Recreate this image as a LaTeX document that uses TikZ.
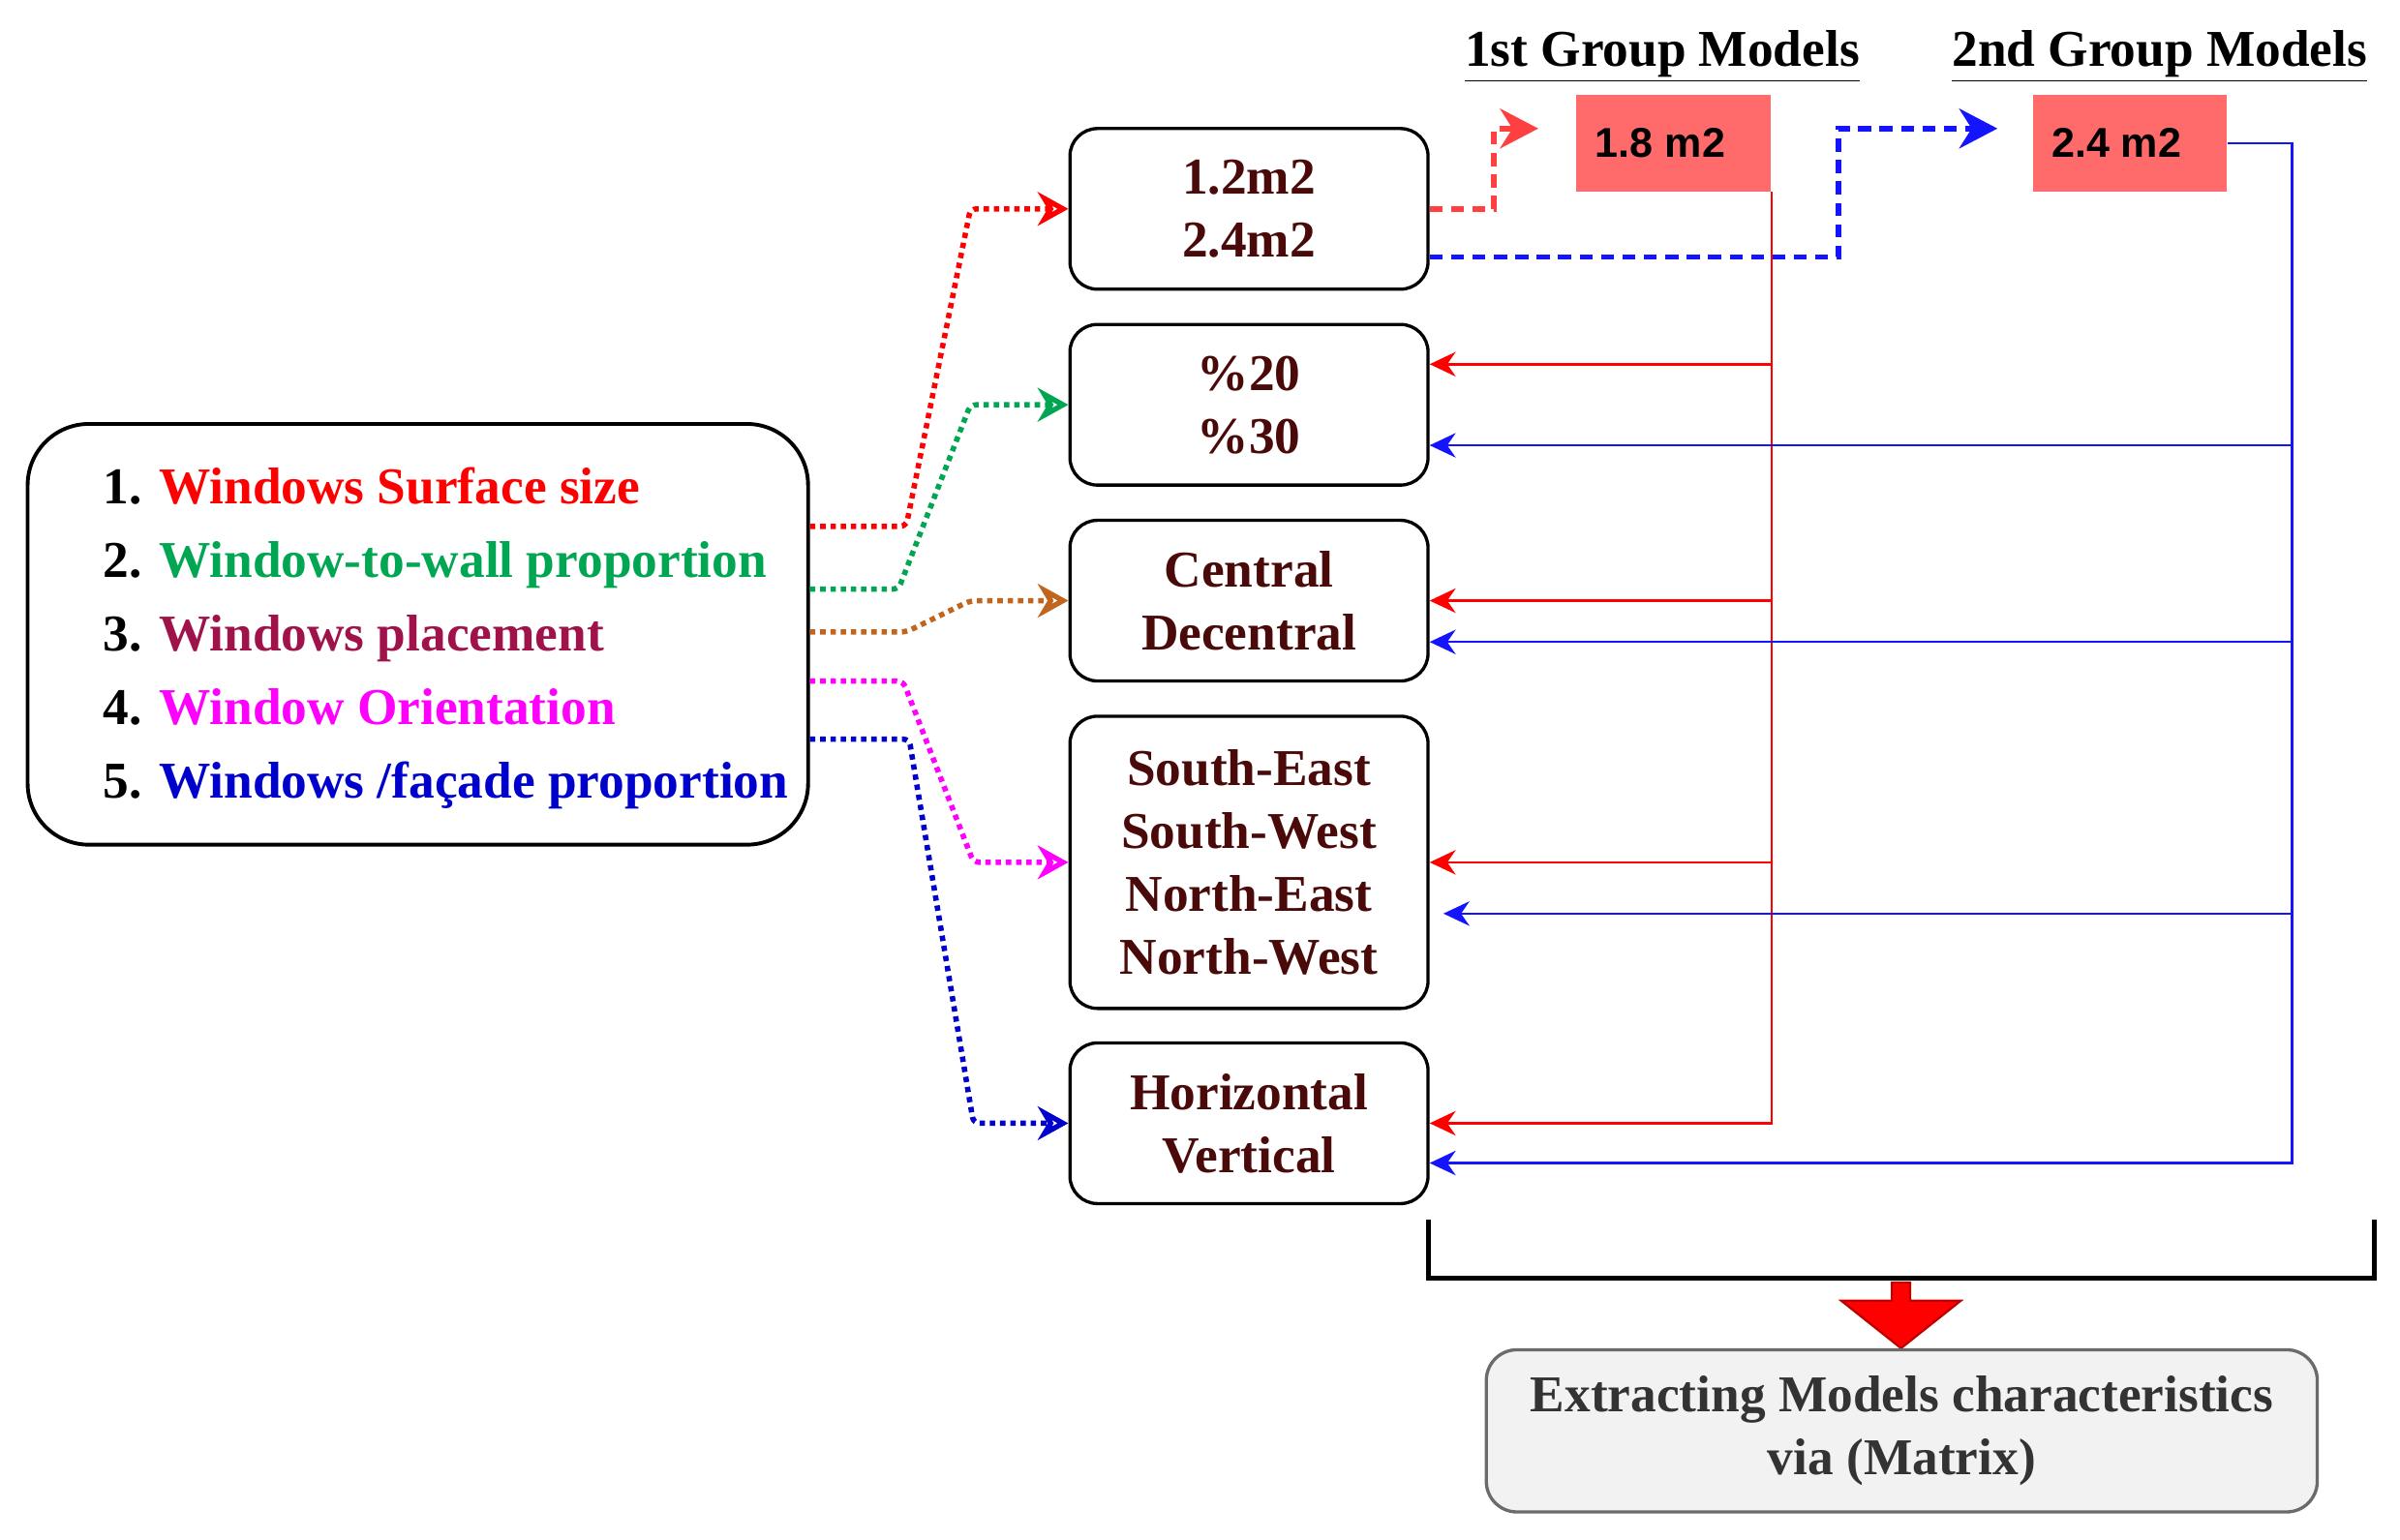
\documentclass[tikz,border=0pt]{standalone}
\usepackage{fontspec}
\setmainfont{Liberation Serif}
\newfontfamily\groupsans{Liberation Sans}
\usepackage{tikz}
\usetikzlibrary{arrows.meta,positioning}

\definecolor{sizered}{HTML}{FF0000}
\definecolor{wwrgreen}{HTML}{00A651}
\definecolor{placemaroon}{HTML}{A0124A}
\definecolor{placebrown}{HTML}{C0641E}
\definecolor{orientpink}{HTML}{FF00FF}
\definecolor{facadeblue}{HTML}{0000CC}
\definecolor{lineblue}{HTML}{1414FF}
\definecolor{jumpred}{HTML}{FF4040}
\definecolor{grppink}{HTML}{FF6B6B}
\definecolor{optbrown}{HTML}{4A0A0A}
\definecolor{resfill}{HTML}{F2F2F2}
\definecolor{resgray}{HTML}{6B6B6B}
\definecolor{restext}{HTML}{333333}
\definecolor{fatdark}{HTML}{C00000}

\begin{document}
\begin{tikzpicture}[
    x=0.02cm, y=-0.02cm,
    >=Stealth,
    font=\bfseries\fontsize{19.2}{23.4}\selectfont,
    list/.style={rounded corners=0.8cm, draw, line width=1.4pt, minimum width=10.2cm, minimum height=5.5cm},
    opt/.style={rounded corners=0.36cm, draw, line width=1.2pt, minimum width=4.68cm, minimum height=2.1cm, align=center, text=optbrown},
    group/.style={fill=grppink, minimum width=2.54cm, minimum height=1.26cm, font=\groupsans\bfseries\fontsize{15.5}{18}\selectfont},
    link/.style={line width=2pt, dash pattern=on 2pt off 1.8pt, rounded corners=0.08cm, -{Stealth[open, length=0.4cm, width=0.44cm]}},
    feed/.style={line width=0.9pt, -{Stealth[length=0.34cm, width=0.32cm]}},
    jump/.style={line width=2pt, dash pattern=on 0.17cm off 0.11cm, -{Stealth[length=0.5cm, width=0.52cm]}},
    result/.style={rounded corners=0.4cm, draw=resgray, fill=resfill, line width=1.2pt, minimum width=10.86cm, minimum height=2.12cm, align=center, text=restext}
]
\useasboundingbox (0,0) rectangle (1568,1006);

\node[list] (list) at (273,414.5) {};
\node[anchor=west, align=left, inner sep=0pt, font=\bfseries\fontsize{19.2}{27.3}\selectfont] (items) at (67,417)
  {1. \textcolor{sizered}{Windows Surface size}\\
   2. \textcolor{wwrgreen}{Window-to-wall proportion}\\
   3. \textcolor{placemaroon}{Windows placement}\\
   4. \textcolor{orientpink}{Window Orientation}\\
   5. \textcolor{facadeblue}{Windows /façade proportion}};

\node[opt] (area) at (816,136.5) {1.2m2\\2.4m2};
\node[opt] (wwr) at (816,264.5) {\%20\\\%30};
\node[opt] (place) at (816,392.5) {Central\\Decentral};
\node[opt, minimum height=3.82cm] (orient) at (816,563.5) {South-East\\South-West\\North-East\\North-West};
\node[opt] (shape) at (816,734) {Horizontal\\Vertical};

\node (t1) at (1086,37) {\underline{1st Group Models}};
\node (t2) at (1411,37) {\underline{2nd Group Models}};
\node[group] (g1) at (1093.5,93.5) {1.8 m2\hspace*{0.35cm}};
\node[group] (g2) at (1391.5,93.5) {2.4 m2\hspace*{0.35cm}};

\draw[link, sizered] (list.east |- 0,344) -- (592,344) -- (634,136.5) -- (area.west);
\draw[link, wwrgreen] (list.east |- 0,385) -- (587,385) -- (634,264.5) -- (wwr.west);
\draw[link, placebrown] (list.east |- 0,413) -- (592,413) -- (634,392.5) -- (place.west);
\draw[link, orientpink] (list.east |- 0,445) -- (590,445) -- (636,563.5) -- (orient.west);
\draw[link, facadeblue] (list.east |- 0,483) -- (594,483) -- (636,734) -- (shape.west);

\coordinate (g1in) at (1005,84);
\coordinate (g2in) at (1305,84);
\draw[jump, jumpred] (area.east) -- ++(42,0) |- (g1in);
\draw[jump, lineblue] ([yshift=-0.63cm]area.east) -- ++(267,0) |- (g2in);

\coordinate (rB) at ([yshift=0.53cm]wwr.east);
\coordinate (bB) at ([yshift=-0.53cm]wwr.east);
\coordinate (bC) at ([yshift=-0.54cm]place.east);
\coordinate (bD) at ([xshift=0.18cm, yshift=-0.67cm]orient.east);
\coordinate (bE) at ([yshift=-0.52cm]shape.east);

\draw[feed, sizered] (g1.south east) |- (shape.east);
\draw[feed, sizered] (g1.south east |- rB) -- (rB);
\draw[feed, sizered] (g1.south east |- place.east) -- (place.east);
\draw[feed, sizered] (g1.south east |- orient.east) -- (orient.east);

\draw[feed, lineblue] (g2.east) -- ++(42,0) coordinate (btop) |- (bE);
\draw[feed, lineblue] (btop |- bB) -- (bB);
\draw[feed, lineblue] (btop |- bC) -- (bC);
\draw[feed, lineblue] (btop |- bD) -- (bD);

\draw[line width=1.8pt] (933,797) -- (933,835) -- (1551,835) -- (1551,797);
\draw[fill=red, draw=fatdark, line width=0.8pt] (1236,838) -- (1248,838) -- (1248,850) -- (1281,850) -- (1242,881) -- (1203,850) -- (1236,850) -- cycle;

\node[result] (extract) at (1242.5,935) {Extracting Models characteristics\\via (Matrix)};

\end{tikzpicture}
\end{document}
